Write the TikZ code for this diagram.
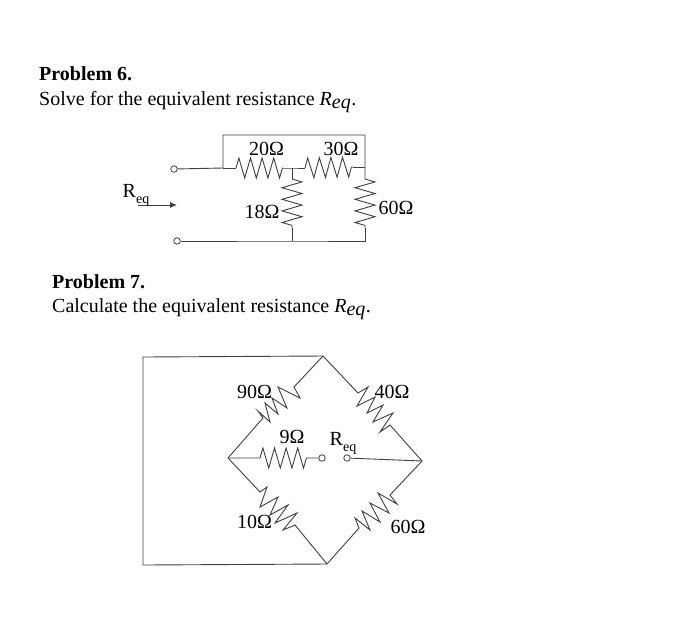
\documentclass[tikz,border=0pt]{standalone}
\usepackage{fontspec}
\setmainfont{Liberation Serif}
\usetikzlibrary{decorations.pathmorphing,arrows.meta}
\newcommand{\reqlabel}{R\raisebox{-6.5pt}{\fontsize{14}{14}\selectfont eq}}

\begin{document}
\begin{tikzpicture}[x=1pt,y=-1pt,
    wire/.style={draw=black!75,line width=0.9pt},
    resistor/.style={wire,decorate,decoration={zigzag,segment length=11.6,amplitude=10}},
    terminal/.style={circle,draw=black!75,line width=0.8pt,fill=white,inner sep=0,minimum size=6.5},
    txt/.style={anchor=base west,inner sep=0,font=\fontsize{20}{20}\selectfont},
    val/.style={anchor=base,inner sep=0,font=\fontsize{20}{20}\selectfont}]
\useasboundingbox (0,0) rectangle (700,630);
\fill[white] (0,0) rectangle (700,630);
\node[txt] (titleA) at (39,80) {\textbf{Problem 6.}};
\node[txt] (textA) at (39,105) {Solve for the equivalent resistance \textit{R}$_{\textit{eq}}$.};
\node[txt] (titleB) at (52,288) {\textbf{Problem 7.}};
\node[txt] (textB) at (52,312) {Calculate the equivalent resistance \textit{R}$_{\textit{eq}}$.};
% first circuit
\node[terminal] (inA) at (174,169) {};
\node[terminal] (inB) at (177,241) {};
\foreach \nm/\pos in {split/{223,168},boxL/{223,135},boxR/{365,135},endR/{365,167},
    midT/{292,168},midB/{292,241},endB/{365,241},
    aS/{236,168},aE/{283,168},bS/{305,168},bE/{353,167},
    cS/{292,179},cE/{292,228},dS/{365,179},dE/{365,228},
    arrS/{138,205},arrE/{177,205}}
  {\coordinate (\nm) at (\pos);}
\draw[wire] (inA) -- (split) -- (boxL) -- (boxR) -- (endR) -- (dS);
\draw[wire] (split) -- (aS);
\draw[resistor] (aS) -- (aE);
\draw[wire] (aE) -- (midT) -- (bS);
\draw[resistor] (bS) -- (bE);
\draw[wire] (bE) -- (endR);
\draw[wire] (midT) -- (cS);
\draw[resistor] (cS) -- (cE);
\draw[wire] (cE) -- (midB);
\draw[resistor] (dS) -- (dE);
\draw[wire] (dE) -- (endB) -- (midB) -- (inB);
\draw[wire,-{Latex[length=7,width=6]}] (arrS) -- (arrE);
\node[val] (rA) at (266.5,155) {20Ω};
\node[val] (rB) at (341,155) {30Ω};
\node[val] (rC) at (262,218) {18Ω};
\node[val] (rD) at (396,214) {60Ω};
\node[val] (lblA) at (136,197) {\reqlabel};
% second circuit
\foreach \nm/\pos in {corA/{143,357},corB/{143,565},top/{323,356},bot/{327,564},
    left/{228,458},right/{422,461},iS/{260,458},iE/{307,458}}
  {\coordinate (\nm) at (\pos);}
\node[terminal] (inC) at (322,458) {};
\node[terminal] (inD) at (347,458) {};
\draw[wire] (top) -- (corA) -- (corB) -- (bot);
\draw[wire] (left) -- (263,418) -- (258,411) -- (270,422) -- (265,403) -- (278,414) -- (272,398) -- (287,408) -- (278,387) -- (300,398) -- (294,387) -- (top);
\draw[wire] (top) -- (358,393) -- (368,387) -- (357,406) -- (375,397) -- (367,413) -- (383,405) -- (373,422) -- (393,413) -- (380,432) -- (390,425) -- (right);
\draw[wire] (right) -- (390,495) -- (397,504) -- (378,493) -- (389,513) -- (370,503) -- (380,522) -- (362,511) -- (370,530) -- (355,518) -- (359,528) -- (bot);
\draw[wire] (left) -- (260,492) -- (267,487) -- (260,507) -- (278,497) -- (270,515) -- (288,505) -- (275,523) -- (297,513) -- (283,530) -- (295,525) -- (bot);
\draw[wire] (left) -- (iS) (iE) -- (inC) (inD) -- (right);
\draw[resistor] (iS) -- (iE);
\node[val] (rE) at (254.5,398) {90Ω};
\node[val] (rF) at (392,398) {40Ω};
\node[val] (rG) at (292,443) {9Ω};
\node[val] (rH) at (254.5,528) {10Ω};
\node[val] (rI) at (408,533) {60Ω};
\node[val] (lblB) at (343,445) {\reqlabel};
\end{tikzpicture}
\end{document}
